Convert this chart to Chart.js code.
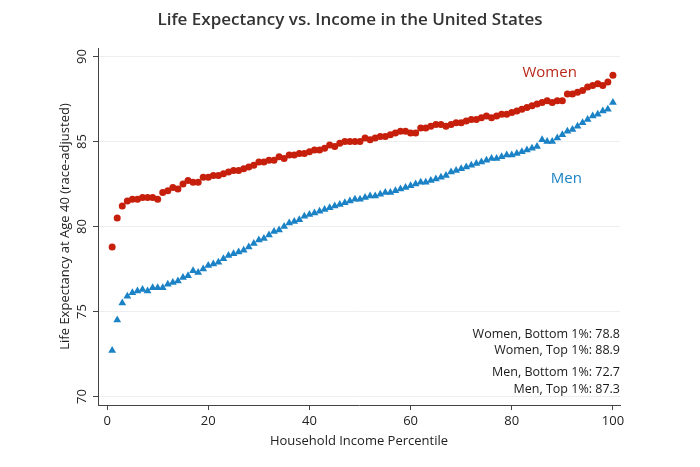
<!DOCTYPE html>
<html>
<head>
<meta charset="utf-8">
<script src="https://cdn.jsdelivr.net/npm/chart.js@4"></script>
<style>
  body { margin: 0; background: #fff; }
  #wrap { width: 700px; height: 467px; }
</style>
</head>
<body>
<div id="wrap"><canvas id="myChart" width="700" height="467"></canvas></div>
<script>
const chartTitle = 'Life Expectancy vs. Income in the United States';
const xTicks = [0, 20, 40, 60, 80, 100];
const yTicks = [70, 75, 80, 85, 90];

const percentiles = [];
for (let i = 1; i <= 100; i++) percentiles.push(i);

const women = [
  78.8, 80.5, 81.2, 81.5, 81.6, 81.6, 81.7, 81.7, 81.7, 81.6,
  82.0, 82.1, 82.3, 82.2, 82.5, 82.7, 82.6, 82.6, 82.9, 82.9,
  83.0, 83.0, 83.1, 83.2, 83.3, 83.3, 83.4, 83.5, 83.6, 83.8,
  83.8, 83.9, 83.9, 84.1, 84.0, 84.2, 84.2, 84.3, 84.3, 84.4,
  84.5, 84.5, 84.6, 84.8, 84.7, 84.9, 85.0, 85.0, 85.0, 85.0,
  85.2, 85.1, 85.2, 85.3, 85.3, 85.4, 85.5, 85.6, 85.6, 85.5,
  85.5, 85.8, 85.8, 85.9, 86.0, 86.0, 85.9, 86.0, 86.1, 86.1,
  86.2, 86.3, 86.3, 86.4, 86.5, 86.4, 86.5, 86.6, 86.6, 86.7,
  86.8, 86.9, 87.0, 87.1, 87.2, 87.3, 87.4, 87.3, 87.4, 87.4,
  87.8, 87.8, 87.9, 88.0, 88.2, 88.3, 88.4, 88.3, 88.5, 88.9
];

const men = [
  72.7, 74.5, 75.5, 75.9, 76.1, 76.2, 76.3, 76.2, 76.4, 76.4,
  76.4, 76.6, 76.7, 76.8, 77.0, 77.1, 77.4, 77.3, 77.5, 77.7,
  77.8, 77.9, 78.1, 78.3, 78.4, 78.5, 78.6, 78.8, 79.0, 79.2,
  79.3, 79.5, 79.7, 79.8, 80.0, 80.2, 80.3, 80.4, 80.6, 80.7,
  80.8, 80.9, 81.0, 81.1, 81.2, 81.3, 81.4, 81.5, 81.6, 81.6,
  81.7, 81.8, 81.8, 81.9, 82.0, 82.0, 82.1, 82.2, 82.3, 82.4,
  82.5, 82.6, 82.6, 82.7, 82.8, 82.9, 83.0, 83.2, 83.3, 83.4,
  83.5, 83.6, 83.7, 83.8, 83.9, 84.0, 84.0, 84.1, 84.2, 84.2,
  84.3, 84.4, 84.5, 84.6, 84.7, 85.1, 85.0, 85.0, 85.2, 85.4,
  85.6, 85.7, 85.9, 86.1, 86.3, 86.5, 86.6, 86.8, 86.9, 87.3
];

const notes = [
  'Women, Bottom 1%: 78.8',
  'Women, Top 1%: 88.9',
  'Men, Bottom 1%: 72.7',
  'Men, Top 1%: 87.3'
];

const RED = '#c61f0b';
const BLUE = '#1b82c5';
const FONT = "'Open Sans', 'Noto Sans', sans-serif";

function toPoints(ys) {
  return percentiles.map((x, i) => ({ x: x, y: ys[i] }));
}

const labelsPlugin = {
  id: 'labels',
  afterDraw(chart) {
    const ctx = chart.ctx;
    const xs = chart.scales.x;
    const ys = chart.scales.y;
    const area = chart.chartArea;
    ctx.save();
    ctx.textBaseline = 'middle';

    ctx.fillStyle = '#333';
    ctx.font = '600 17px ' + FONT;
    ctx.textAlign = 'center';
    ctx.fillText(chartTitle, 350, 20);

    ctx.font = '15px ' + FONT;
    ctx.fillStyle = '#b8281a';
    ctx.fillText('Women', xs.getPixelForValue(87.5), ys.getPixelForValue(89.05));
    ctx.fillStyle = BLUE;
    ctx.fillText('Men', xs.getPixelForValue(90.8), ys.getPixelForValue(82.8));

    ctx.font = '12.5px ' + FONT;
    ctx.fillStyle = '#1a1a1a';
    ctx.textAlign = 'right';
    const tops = [334, 350, 372, 389];
    notes.forEach((t, i) => ctx.fillText(t, area.right, tops[i]));
    ctx.restore();
  }
};

new Chart(document.getElementById('myChart'), {
  type: 'scatter',
  data: {
    datasets: [
      {
        label: 'Women',
        data: toPoints(women),
        pointStyle: 'circle',
        pointRadius: 3.5,
        backgroundColor: RED,
        borderColor: RED,
        borderWidth: 0
      },
      {
        label: 'Men',
        data: toPoints(men),
        pointStyle: 'triangle',
        pointRadius: 4.5,
        backgroundColor: BLUE,
        borderColor: BLUE,
        borderWidth: 0
      }
    ]
  },
  options: {
    responsive: false,
    animation: false,
    layout: { padding: { top: 48, right: 80, left: 0, bottom: 0 } },
    plugins: {
      legend: { display: false },
      tooltip: { enabled: false }
    },
    scales: {
      x: {
        type: 'linear',
        min: -1.8,
        max: 101.4,
        afterBuildTicks: (s) => { s.ticks = xTicks.map(v => ({ value: v })); },
        afterFit: (s) => { s.height = 62; },
        border: { display: true, color: '#444', width: 1 },
        grid: { drawOnChartArea: false, drawTicks: true, tickLength: 5, tickColor: '#444' },
        ticks: { color: '#222', font: { family: FONT, size: 13 }, padding: 3, maxRotation: 0 },
        title: {
          display: true,
          text: 'Household Income Percentile',
          color: '#222',
          font: { family: FONT, size: 13 },
          padding: { top: 0, bottom: 18 }
        }
      },
      y: {
        type: 'linear',
        min: 69.5,
        max: 90.5,
        afterBuildTicks: (s) => { s.ticks = yTicks.map(v => ({ value: v })); },
        afterFit: (s) => { s.width = 98; },
        border: { display: true, color: '#444', width: 1 },
        grid: { color: '#eeeeee', drawTicks: true, tickLength: 5, tickColor: '#444' },
        ticks: {
          color: '#222',
          font: { family: FONT, size: 13 },
          padding: 3,
          minRotation: 90,
          maxRotation: 90,
          crossAlign: 'center'
        },
        title: {
          display: true,
          text: 'Life Expectancy at Age 40 (race-adjusted)',
          color: '#222',
          font: { family: FONT, size: 13 },
          padding: { top: 57, bottom: 0 }
        }
      }
    }
  },
  plugins: [labelsPlugin]
});
</script>
</body>
</html>
